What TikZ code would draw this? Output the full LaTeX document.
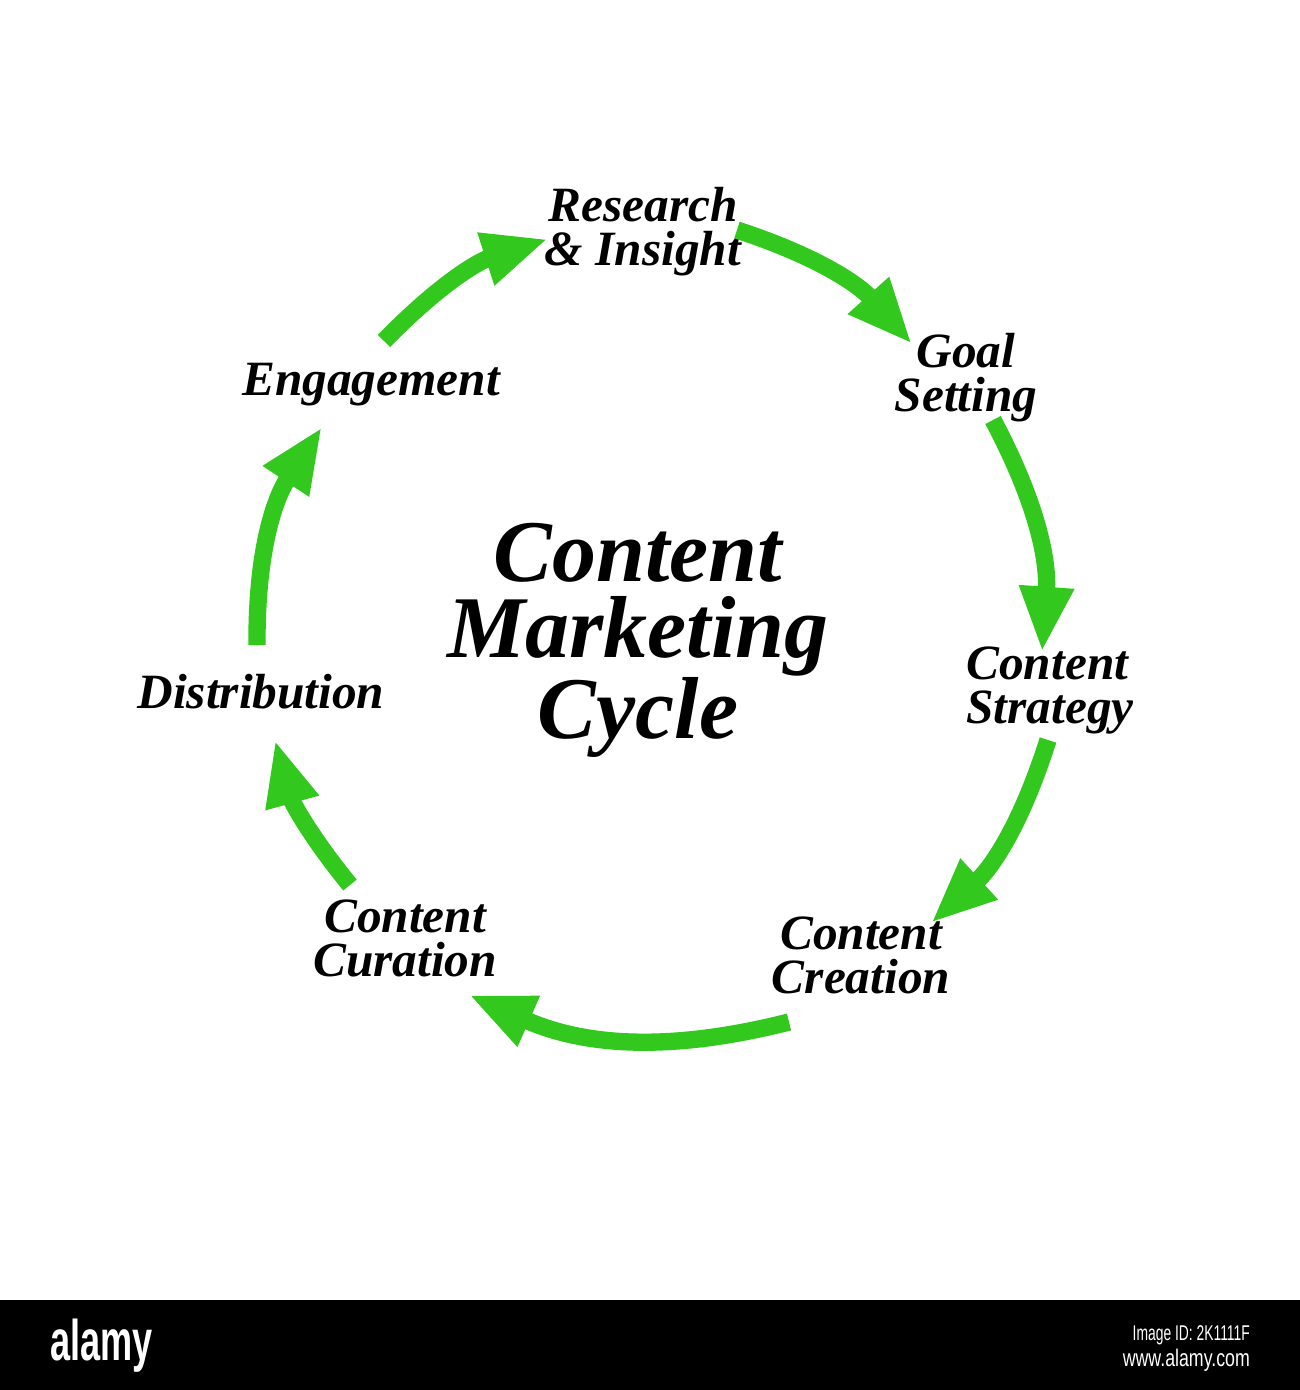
\documentclass[tikz,border=0pt]{standalone}
\usepackage{fontspec}
\setmainfont{Liberation Serif}
\setsansfont{Liberation Sans}
\usetikzlibrary{arrows.meta}
\definecolor{cyclegreen}{RGB}{50,200,30}
\begin{document}
\begin{tikzpicture}[x=0.75pt,y=-0.75pt,
  lbl/.style={font=\fontsize{37}{33}\selectfont\bfseries\itshape, align=center, inner sep=0},
  ttl/.style={font=\fontsize{66}{57}\selectfont\bfseries\itshape, align=center, inner sep=0},
  cyc/.style={draw=cyclegreen, line width=13pt, -{Triangle[length=49pt,width=38pt]}},
  wm/.style={text=white, inner sep=0},
]
\useasboundingbox (0,0) rectangle (1300,1390);
\fill[white] (0,0) rectangle (1300,1300);

% labels
\node[lbl] (research) at (643,232) {Research\\ \& Insight};
\node[lbl] (goal) at (966,378) {Goal\\Setting};
\node[lbl, align=left] (strategy) at (1050,690) {Content\\Strategy};
\node[lbl] (creation) at (861,955) {Content\\Creation};
\node[lbl] (curation) at (405,938) {Content\\Curation};
\node[lbl] (distribution) at (261,692) {Distribution};
\node[lbl] (engagement) at (371,385) {Engagement};
\node[ttl] (title) at (638,640) {Content\\Marketing\\Cycle};

% arrow end points
\coordinate (a1s) at (384,341);  \coordinate (a1e) at (548,239);
\coordinate (a2s) at (737,230);  \coordinate (a2e) at (912,344);
\coordinate (a3s) at (993,420);  \coordinate (a3e) at (1042,652);
\coordinate (a4s) at (1048,740); \coordinate (a4e) at (931,923);
\coordinate (a5s) at (789,1022); \coordinate (a5e) at (469,995);
\coordinate (a6s) at (350,885);  \coordinate (a6e) at (275,740);
\coordinate (a7s) at (257,645);  \coordinate (a7e) at (322,427);

\draw[cyc] (a1s) to[bend left=14] (a1e);
\draw[cyc] (a2s) to[bend left=15] (a2e);
\draw[cyc] (a3s) to[bend left=16] (a3e);
\draw[cyc] (a4s) to[bend left=15] (a4e);
\draw[cyc] (a5s) to[bend left=19] (a5e);
\draw[cyc] (a6s) to[bend left=12] (a6e);
\draw[cyc] (a7s) to[bend left=17] (a7e);

% watermark bar
\fill[black] (0,1300) rectangle (1300,1390);
\node[wm, font=\sffamily\bfseries\fontsize{43}{43}\selectfont, xscale=0.63, anchor=base west] (logo) at (50,1360) {alamy};
\node[wm, font=\sffamily\fontsize{16}{16}\selectfont, xscale=0.65, anchor=base east] (imgid) at (1250,1340) {Image ID: 2K1111F};
\node[wm, font=\sffamily\fontsize{18}{18}\selectfont, xscale=0.74, anchor=base east] (url) at (1250,1366) {www.alamy.com};
\end{tikzpicture}
\end{document}
